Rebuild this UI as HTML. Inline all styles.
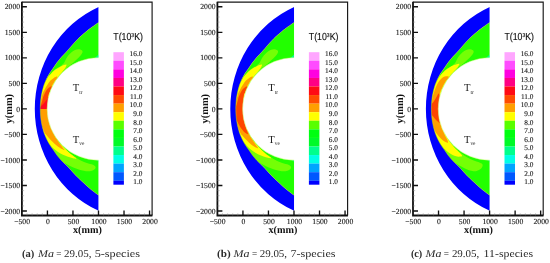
<!DOCTYPE html>
<html lang="en"><head><meta charset="utf-8"><title>Temperature contours</title>
<style>html,body{margin:0;padding:0;background:#fff}svg{display:block}text{text-rendering:geometricPrecision}</style></head><body>
<svg width="550" height="263" viewBox="0 0 550 263">
<rect width="550" height="263" fill="#fff"/>
<defs><clipPath id="cu"><rect x="0" y="0" width="160" height="108.9"/></clipPath><clipPath id="cl"><rect x="0" y="108.9" width="160" height="160"/></clipPath></defs>
<g transform="translate(0 0)">
<path d="M98.65 22.4C97.54 23.18 94.16 25.48 92 27.1C89.84 28.72 88.03 30.13 85.7 32.1C83.37 34.07 80.28 36.68 78 38.9C75.72 41.12 73.95 43.22 72 45.4C70.05 47.58 68.08 50.02 66.3 52C64.52 53.98 62.85 55.53 61.3 57.3C59.75 59.07 58.33 60.82 57 62.6C55.67 64.38 54.53 66.22 53.3 68C52.07 69.78 50.73 71.47 49.6 73.3C48.47 75.13 47.43 77.05 46.5 79C45.57 80.95 44.72 82.92 44 85C43.28 87.08 42.7 89.33 42.2 91.5C41.7 93.67 41.29 95.92 41 98C40.71 100.08 40.57 102.18 40.45 104C40.33 105.82 40.32 108.08 40.3 108.9C40.32 109.72 40.33 111.98 40.45 113.8C40.57 115.62 40.71 117.72 41 119.8C41.29 121.88 41.7 124.13 42.2 126.3C42.7 128.47 43.28 130.72 44 132.8C44.72 134.88 45.57 136.85 46.5 138.8C47.43 140.75 48.47 142.67 49.6 144.5C50.73 146.33 52.07 148.02 53.3 149.8C54.53 151.58 55.65 153.43 57 155.2C58.35 156.97 59.8 158.69 61.41 160.4C63.02 162.12 64.79 163.57 66.65 165.49C68.51 167.4 70.58 169.76 72.58 171.88C74.58 174 76.41 175.99 78.67 178.21C80.93 180.43 83.87 183.16 86.12 185.2C88.38 187.23 90.12 188.72 92.21 190.42C94.3 192.11 97.6 194.54 98.67 195.37Z" fill="#22ff00"/>
<g clip-path="url(#cu)">
<path d="M81.9 50.3C81.23 49.78 79.65 49.25 78.5 49.2C77.35 49.15 76.17 49.5 75 50C73.83 50.5 72.58 51.32 71.5 52.2C70.42 53.08 69.42 54.17 68.5 55.3C67.58 56.43 66.7 57.78 66 59C65.3 60.22 65.05 61.53 64.3 62.6C63.55 63.67 62.8 64.4 61.5 65.4C60.2 66.4 58.08 67.47 56.5 68.6C54.92 69.73 53.58 70.55 52 72.2C50.42 73.85 48.67 75.53 47 78.5C45.33 81.47 43.5 83.77 42 90C40.5 96.23 36.67 111.58 38 115.9C39.33 120.22 48 119.38 50 115.9C52 112.42 49.42 100.15 50 95C50.58 89.85 52.07 88 53.5 85C54.93 82 57.13 79.05 58.6 77C60.07 74.95 60.98 74.17 62.3 72.7C63.62 71.23 65.22 69.43 66.5 68.2C67.78 66.97 68.75 66.33 70 65.3C71.25 64.27 72.67 63.17 74 62C75.33 60.83 76.83 59.47 78 58.3C79.17 57.13 80.25 56 81 55C81.75 54 82.35 53.08 82.5 52.3C82.65 51.52 82.57 50.82 81.9 50.3Z" fill="#74ff06"/>
<path d="M66.3 64.6C65.65 64.3 63.02 65.42 61.3 66.2C59.58 66.98 57.6 68.17 56 69.3C54.4 70.43 53.2 71.43 51.7 73C50.2 74.57 48.62 75.87 47 78.7C45.38 81.53 43.5 83.8 42 90C40.5 96.2 36.75 111.58 38 115.9C39.25 120.22 47.58 119.38 49.5 115.9C51.42 112.42 48.92 100.15 49.5 95C50.08 89.85 51.57 88.05 53 85C54.43 81.95 56.68 78.75 58.1 76.7C59.52 74.65 60.32 74.15 61.5 72.7C62.68 71.25 64.4 69.35 65.2 68C66 66.65 66.95 64.9 66.3 64.6Z" fill="#ffff00"/>
<path d="M57.1 76.6C56.57 76.55 54.9 77.23 53.8 77.9C52.7 78.57 51.53 79.5 50.5 80.6C49.47 81.7 48.62 82.93 47.6 84.5C46.58 86.07 45.33 88.08 44.4 90C43.47 91.92 43.07 91.68 42 96C40.93 100.32 36.83 112.58 38 115.9C39.17 119.22 47.25 119.22 49 115.9C50.75 112.58 48.08 100.82 48.5 96C48.92 91.18 50.5 89.42 51.5 87C52.5 84.58 53.58 82.97 54.5 81.5C55.42 80.03 56.57 79.02 57 78.2C57.43 77.38 57.63 76.65 57.1 76.6Z" fill="#ff9f00"/>
<path d="M51.5 86.2C50.98 86.2 49.42 87.2 48.5 88C47.58 88.8 46.75 89.83 46 91C45.25 92.17 44.6 93.5 44 95C43.4 96.5 43.23 96.52 42.4 100C41.57 103.48 37.9 113.25 39 115.9C40.1 118.55 47.5 118.88 49 115.9C50.5 112.92 47.83 102.07 48 98C48.17 93.93 49.4 93.17 50 91.5C50.6 89.83 51.35 88.88 51.6 88C51.85 87.12 52.02 86.2 51.5 86.2Z" fill="#ff4600"/>
<path d="M39 108.2C39.22 106.7 39.47 107.73 40.3 106.9C41.13 106.07 42.78 104.55 44 103.2C45.22 101.85 46.6 99.83 47.6 98.8C48.6 97.77 49.27 94.15 50 97C50.73 99.85 53.83 112.75 52 115.9C50.17 119.05 41.17 117.18 39 115.9C36.83 114.62 38.78 109.7 39 108.2Z" fill="#ff0a20"/>
</g><g clip-path="url(#cl)">
<path d="M95.6 167.3C95.49 166.44 94.42 165.56 92.96 164.84C91.51 164.12 88.81 163.69 86.85 162.99C84.9 162.29 83.22 161.66 81.24 160.64C79.25 159.63 76.98 158.27 74.94 156.9C72.9 155.53 71.11 154.19 68.99 152.42C66.87 150.66 64.45 148.76 62.23 146.31C60 143.85 57.62 141.03 55.65 137.7C53.69 134.37 51.03 132.31 50.43 126.34C49.82 120.38 54.24 105.97 52 101.9C49.76 97.83 39 98.05 37 101.9C35 105.75 38.5 118.65 40 125C41.5 131.35 43.83 135.67 46 140C48.17 144.33 50.67 147.58 53 151C55.33 154.42 58 158.47 60 160.5C62 162.53 63.23 162.25 65 163.2C66.77 164.15 68.77 165.3 70.6 166.2C72.43 167.1 74.22 167.92 76 168.6C77.78 169.28 79.63 169.87 81.3 170.3C82.97 170.73 84.55 171.05 86 171.2C87.45 171.35 88.73 171.4 90 171.2C91.27 171 92.67 170.65 93.6 170C94.53 169.35 95.71 168.16 95.6 167.3Z" fill="#74ff06"/>
<path d="M76.5 158.5C76.62 158.16 74.76 156.98 73.74 156.18C72.72 155.37 71.61 154.71 70.37 153.68C69.13 152.64 67.8 151.44 66.27 149.96C64.75 148.47 62.96 146.82 61.23 144.74C59.5 142.67 57.63 140.63 55.9 137.53C54.18 134.44 51.55 132.11 50.9 126.17C50.24 120.23 54.32 105.95 52 101.9C49.68 97.85 39 98.55 37 101.9C35 105.25 38.67 116.15 40 122C41.33 127.85 43.5 133.43 45 137C46.5 140.57 47.67 141.57 49 143.4C50.33 145.23 51.5 146.57 53 148C54.5 149.43 56.33 150.87 58 152C59.67 153.13 61.33 154 63 154.8C64.67 155.6 66.33 156.23 68 156.8C69.67 157.37 71.58 157.92 73 158.2C74.42 158.48 76.38 158.84 76.5 158.5Z" fill="#ffff00"/>
<path d="M64.7 150.2C64.87 149.98 63.54 148.65 62.81 147.68C62.08 146.71 61.25 145.66 60.32 144.36C59.39 143.07 58.39 141.81 57.22 139.89C56.05 137.97 54.51 135.85 53.32 132.84C52.13 129.83 50.11 127 50.05 121.84C50 116.68 55.18 105.22 53 101.9C50.82 98.58 39.17 98.88 37 101.9C34.83 104.92 38.83 115.07 40 120C41.17 124.93 42.93 129 44 131.5C45.07 134 45.43 133.75 46.4 135C47.37 136.25 48.7 137.78 49.8 139C50.9 140.22 51.97 141.3 53 142.3C54.03 143.3 55 144.17 56 145C57 145.83 58.03 146.63 59 147.3C59.97 147.97 60.85 148.52 61.8 149C62.75 149.48 64.53 150.42 64.7 150.2Z" fill="#ff9f00"/>
</g>
<path d="M94.2 58.6L98.7 54.6V58.6Z" fill="#00ffb0" fill-opacity="0.8"/>
<path d="M95.6 159.4L98.7 162.4V159.4Z" fill="#00ff90" fill-opacity="0.5"/>
<path d="M98.65 6.95A105.3 110.9 0 0 0 98.65 210.85L98.67 195.37C97.6 194.54 94.3 192.11 92.21 190.42C90.12 188.72 88.38 187.23 86.12 185.2C83.87 183.16 80.93 180.43 78.67 178.21C76.41 175.99 74.58 174 72.58 171.88C70.58 169.76 68.51 167.4 66.65 165.49C64.79 163.57 63.02 162.12 61.41 160.4C59.8 158.69 58.35 156.97 57 155.2C55.65 153.43 54.53 151.58 53.3 149.8C52.07 148.02 50.73 146.33 49.6 144.5C48.47 142.67 47.43 140.75 46.5 138.8C45.57 136.85 44.72 134.88 44 132.8C43.28 130.72 42.7 128.47 42.2 126.3C41.7 124.13 41.29 121.88 41 119.8C40.71 117.72 40.57 115.62 40.45 113.8C40.33 111.98 40.32 109.72 40.3 108.9C40.32 108.08 40.33 105.82 40.45 104C40.57 102.18 40.71 100.08 41 98C41.29 95.92 41.7 93.67 42.2 91.5C42.7 89.33 43.28 87.08 44 85C44.72 82.92 45.57 80.95 46.5 79C47.43 77.05 48.47 75.13 49.6 73.3C50.73 71.47 52.07 69.78 53.3 68C54.53 66.22 55.67 64.38 57 62.6C58.33 60.82 59.75 59.07 61.3 57.3C62.85 55.53 64.52 53.98 66.3 52C68.08 50.02 70.05 47.58 72 45.4C73.95 43.22 75.72 41.12 78 38.9C80.28 36.68 83.37 34.07 85.7 32.1C88.03 30.13 89.84 28.72 92 27.1C94.16 25.48 97.54 23.18 98.65 22.4Z" fill="#0000ff"/>
<path d="M98.65 22.4C97.54 23.18 94.16 25.48 92 27.1C89.84 28.72 88.03 30.13 85.7 32.1C83.37 34.07 80.28 36.68 78 38.9C75.72 41.12 73.95 43.22 72 45.4C70.05 47.58 68.08 50.02 66.3 52C64.52 53.98 62.85 55.53 61.3 57.3C59.75 59.07 58.33 60.82 57 62.6C55.67 64.38 54.53 66.22 53.3 68C52.07 69.78 50.73 71.47 49.6 73.3C48.47 75.13 47.43 77.05 46.5 79C45.57 80.95 44.72 82.92 44 85C43.28 87.08 42.7 89.33 42.2 91.5C41.7 93.67 41.29 95.92 41 98C40.71 100.08 40.57 102.18 40.45 104C40.33 105.82 40.32 108.08 40.3 108.9C40.32 109.72 40.33 111.98 40.45 113.8C40.57 115.62 40.71 117.72 41 119.8C41.29 121.88 41.7 124.13 42.2 126.3C42.7 128.47 43.28 130.72 44 132.8C44.72 134.88 45.57 136.85 46.5 138.8C47.43 140.75 48.47 142.67 49.6 144.5C50.73 146.33 52.07 148.02 53.3 149.8C54.53 151.58 55.65 153.43 57 155.2C58.35 156.97 59.8 158.69 61.41 160.4C63.02 162.12 64.79 163.57 66.65 165.49C68.51 167.4 70.58 169.76 72.58 171.88C74.58 174 76.41 175.99 78.67 178.21C80.93 180.43 83.87 183.16 86.12 185.2C88.38 187.23 90.12 188.72 92.21 190.42C94.3 192.11 97.6 194.54 98.67 195.37" fill="none" stroke="#c8e600" stroke-opacity="0.6" stroke-width="0.8"/>
<circle cx="98.35" cy="108.9" r="51.25" fill="#fff" stroke="#c8ff70" stroke-opacity="0.55" stroke-width="0.9"/>
<rect x="98.65" y="3" width="53" height="212" fill="#fff"/>
<path d="M21.9 2.1H152.1V215.5" fill="none" stroke="#161616" stroke-width="1.15"/>
<path d="M21.9 1.8V215.5H152.4" fill="none" stroke="#111" stroke-width="1.8"/>
<path d="M21.9 211.02h5M21.9 185.49h5M21.9 159.96h5M21.9 134.43h5M21.9 108.9h5M21.9 83.37h5M21.9 57.84h5M21.9 32.31h5M21.9 6.78h5M47.43 215.5v-5M72.96 215.5v-5M98.49 215.5v-5M124.02 215.5v-5M149.55 215.5v-5" stroke="#111" stroke-width="1.35" fill="none"/>
<path d="M21.9 205.91h2.2M21.9 200.81h2.2M21.9 195.7h2.2M21.9 190.6h2.2M21.9 180.38h2.2M21.9 175.28h2.2M21.9 170.17h2.2M21.9 165.07h2.2M21.9 154.85h2.2M21.9 149.75h2.2M21.9 144.64h2.2M21.9 139.54h2.2M21.9 129.32h2.2M21.9 124.22h2.2M21.9 119.11h2.2M21.9 114.01h2.2M21.9 103.79h2.2M21.9 98.69h2.2M21.9 93.58h2.2M21.9 88.48h2.2M21.9 78.26h2.2M21.9 73.16h2.2M21.9 68.05h2.2M21.9 62.95h2.2M21.9 52.73h2.2M21.9 47.63h2.2M21.9 42.52h2.2M21.9 37.42h2.2M21.9 27.2h2.2M21.9 22.1h2.2M21.9 16.99h2.2M21.9 11.89h2.2M27.01 215.5v-2.2M32.11 215.5v-2.2M37.22 215.5v-2.2M42.32 215.5v-2.2M52.54 215.5v-2.2M57.64 215.5v-2.2M62.75 215.5v-2.2M67.85 215.5v-2.2M78.07 215.5v-2.2M83.17 215.5v-2.2M88.28 215.5v-2.2M93.38 215.5v-2.2M103.6 215.5v-2.2M108.7 215.5v-2.2M113.81 215.5v-2.2M118.91 215.5v-2.2M129.13 215.5v-2.2M134.23 215.5v-2.2M139.34 215.5v-2.2M144.44 215.5v-2.2" stroke="#8a8a8a" stroke-width="0.5" fill="none"/>
<g font-family="'Liberation Serif',serif" font-size="7.7" fill="#111" stroke="#111" stroke-width="0.1">
<text x="20.1" y="213.62" text-anchor="end">−2000</text>
<text x="20.1" y="188.09" text-anchor="end">−1500</text>
<text x="20.1" y="162.56" text-anchor="end">−1000</text>
<text x="20.1" y="137.03" text-anchor="end">−500</text>
<text x="20.1" y="111.5" text-anchor="end">0</text>
<text x="20.1" y="85.97" text-anchor="end">500</text>
<text x="20.1" y="60.44" text-anchor="end">1000</text>
<text x="20.1" y="34.91" text-anchor="end">1500</text>
<text x="20.1" y="9.38" text-anchor="end">2000</text>
<text x="22.1" y="224.3" text-anchor="middle">−500</text>
<text x="47.93" y="224.3" text-anchor="middle">0</text>
<text x="73.46" y="224.3" text-anchor="middle">500</text>
<text x="98.99" y="224.3" text-anchor="middle">1000</text>
<text x="124.52" y="224.3" text-anchor="middle">1500</text>
<text x="150.05" y="224.3" text-anchor="middle">2000</text>
</g>
<text x="87.4" y="232.9" text-anchor="middle" font-family="'Liberation Serif',serif" font-weight="bold" font-size="10.2" fill="#111">x(mm)</text>
<text transform="translate(12.1 108.7) rotate(-90)" text-anchor="middle" font-family="'Liberation Serif',serif" font-weight="bold" font-size="10.4" fill="#111">y(mm)</text>
<g font-family="'Liberation Serif',serif" fill="#222">
<text x="72.8" y="91.4" font-size="10.6">T<tspan font-size="5.4" dy="2.4">tr</tspan></text>
<text x="72.8" y="142.5" font-size="10.6">T<tspan font-size="5.4" dy="2.4">ve</tspan></text>
</g>
<text x="113.3" y="40.3" font-family="'Liberation Sans',sans-serif" font-size="10.2" fill="#111" stroke="#111" stroke-width="0.15" textLength="29.6" lengthAdjust="spacingAndGlyphs">T(10<tspan font-size="5.8" dy="-3.7">3</tspan><tspan dy="3.7">K)</tspan></text>
<rect x="113.4" y="52.2" width="10.5" height="8.62" fill="#ffa6ff"/>
<rect x="113.4" y="60.77" width="10.5" height="8.62" fill="#ff4cff"/>
<rect x="113.4" y="69.34" width="10.5" height="8.62" fill="#ff00e0"/>
<rect x="113.4" y="77.91" width="10.5" height="8.62" fill="#ff0084"/>
<rect x="113.4" y="86.48" width="10.5" height="8.62" fill="#ff0a14"/>
<rect x="113.4" y="95.05" width="10.5" height="8.62" fill="#ff4c00"/>
<rect x="113.4" y="103.62" width="10.5" height="8.62" fill="#ff9f00"/>
<rect x="113.4" y="112.19" width="10.5" height="8.62" fill="#ffff00"/>
<rect x="113.4" y="120.76" width="10.5" height="8.62" fill="#58ff00"/>
<rect x="113.4" y="129.33" width="10.5" height="8.62" fill="#00ff10"/>
<rect x="113.4" y="137.9" width="10.5" height="8.62" fill="#00fa28"/>
<rect x="113.4" y="146.47" width="10.5" height="8.62" fill="#00ff8c"/>
<rect x="113.4" y="155.04" width="10.5" height="8.62" fill="#00ffe6"/>
<rect x="113.4" y="163.61" width="10.5" height="8.62" fill="#00a4ff"/>
<rect x="113.4" y="172.18" width="10.5" height="8.62" fill="#0058ff"/>
<rect x="113.4" y="180.75" width="10.5" height="3.95" fill="#0000ff"/>
<g font-family="'Liberation Serif',serif" font-size="7.3" fill="#111" stroke="#111" stroke-width="0.1">
<text x="142.4" y="56.3" text-anchor="end">16.0</text>
<text x="142.4" y="64.83" text-anchor="end">15.0</text>
<text x="142.4" y="73.36" text-anchor="end">14.0</text>
<text x="142.4" y="81.89" text-anchor="end">13.0</text>
<text x="142.4" y="90.42" text-anchor="end">12.0</text>
<text x="142.4" y="98.95" text-anchor="end">11.0</text>
<text x="142.4" y="107.48" text-anchor="end">10.0</text>
<text x="142.4" y="116.01" text-anchor="end">9.0</text>
<text x="142.4" y="124.54" text-anchor="end">8.0</text>
<text x="142.4" y="133.07" text-anchor="end">7.0</text>
<text x="142.4" y="141.6" text-anchor="end">6.0</text>
<text x="142.4" y="150.13" text-anchor="end">5.0</text>
<text x="142.4" y="158.66" text-anchor="end">4.0</text>
<text x="142.4" y="167.19" text-anchor="end">3.0</text>
<text x="142.4" y="175.72" text-anchor="end">2.0</text>
<text x="142.4" y="184.25" text-anchor="end">1.0</text>
</g>
</g>
<g font-family="'Liberation Serif',serif" font-size="10.5" fill="#2a2a2a">
<text x="22" y="257.4" textLength="12.3" lengthAdjust="spacingAndGlyphs" font-weight="bold">(a)</text>
<text x="38" y="257.4" textLength="16" lengthAdjust="spacingAndGlyphs" font-style="italic">Ma</text>
<text x="56.3" y="257.4" textLength="5.2" lengthAdjust="spacingAndGlyphs">=</text>
<text x="64" y="257.4" textLength="27.4" lengthAdjust="spacingAndGlyphs">29.05,</text>
<text x="94.7" y="257.4" textLength="45.3" lengthAdjust="spacingAndGlyphs">5-species</text>
</g>
<g transform="translate(195.5 0)">
<path d="M98.65 22.4C97.54 23.18 94.16 25.48 92 27.1C89.84 28.72 88.03 30.13 85.7 32.1C83.37 34.07 80.28 36.68 78 38.9C75.72 41.12 73.95 43.22 72 45.4C70.05 47.58 68.08 50.02 66.3 52C64.52 53.98 62.85 55.53 61.3 57.3C59.75 59.07 58.33 60.82 57 62.6C55.67 64.38 54.53 66.22 53.3 68C52.07 69.78 50.73 71.47 49.6 73.3C48.47 75.13 47.43 77.05 46.5 79C45.57 80.95 44.72 82.92 44 85C43.28 87.08 42.7 89.33 42.2 91.5C41.7 93.67 41.29 95.92 41 98C40.71 100.08 40.57 102.18 40.45 104C40.33 105.82 40.32 108.08 40.3 108.9C40.32 109.72 40.33 111.98 40.45 113.8C40.57 115.62 40.71 117.72 41 119.8C41.29 121.88 41.7 124.13 42.2 126.3C42.7 128.47 43.28 130.72 44 132.8C44.72 134.88 45.57 136.85 46.5 138.8C47.43 140.75 48.47 142.67 49.6 144.5C50.73 146.33 52.07 148.02 53.3 149.8C54.53 151.58 55.65 153.43 57 155.2C58.35 156.97 59.8 158.69 61.41 160.4C63.02 162.12 64.79 163.57 66.65 165.49C68.51 167.4 70.58 169.76 72.58 171.88C74.58 174 76.41 175.99 78.67 178.21C80.93 180.43 83.87 183.16 86.12 185.2C88.38 187.23 90.12 188.72 92.21 190.42C94.3 192.11 97.6 194.54 98.67 195.37Z" fill="#22ff00"/>
<g clip-path="url(#cu)">
<path d="M81.9 50.3C81.23 49.78 79.65 49.25 78.5 49.2C77.35 49.15 76.17 49.5 75 50C73.83 50.5 72.58 51.32 71.5 52.2C70.42 53.08 69.42 54.17 68.5 55.3C67.58 56.43 66.7 57.78 66 59C65.3 60.22 65.05 61.53 64.3 62.6C63.55 63.67 62.8 64.4 61.5 65.4C60.2 66.4 58.08 67.47 56.5 68.6C54.92 69.73 53.58 70.55 52 72.2C50.42 73.85 48.67 75.53 47 78.5C45.33 81.47 43.5 83.77 42 90C40.5 96.23 36.67 111.58 38 115.9C39.33 120.22 48 119.38 50 115.9C52 112.42 49.42 100.15 50 95C50.58 89.85 52.07 88 53.5 85C54.93 82 57.13 79.05 58.6 77C60.07 74.95 60.98 74.17 62.3 72.7C63.62 71.23 65.22 69.43 66.5 68.2C67.78 66.97 68.75 66.33 70 65.3C71.25 64.27 72.67 63.17 74 62C75.33 60.83 76.83 59.47 78 58.3C79.17 57.13 80.25 56 81 55C81.75 54 82.35 53.08 82.5 52.3C82.65 51.52 82.57 50.82 81.9 50.3Z" fill="#74ff06"/>
<path d="M66.3 64.6C65.65 64.3 63.02 65.42 61.3 66.2C59.58 66.98 57.6 68.17 56 69.3C54.4 70.43 53.2 71.43 51.7 73C50.2 74.57 48.62 75.87 47 78.7C45.38 81.53 43.5 83.8 42 90C40.5 96.2 36.75 111.58 38 115.9C39.25 120.22 47.58 119.38 49.5 115.9C51.42 112.42 48.92 100.15 49.5 95C50.08 89.85 51.57 88.05 53 85C54.43 81.95 56.68 78.75 58.1 76.7C59.52 74.65 60.32 74.15 61.5 72.7C62.68 71.25 64.4 69.35 65.2 68C66 66.65 66.95 64.9 66.3 64.6Z" fill="#ffff00"/>
<path d="M57.1 76.6C56.57 76.55 54.9 77.23 53.8 77.9C52.7 78.57 51.53 79.5 50.5 80.6C49.47 81.7 48.62 82.93 47.6 84.5C46.58 86.07 45.33 88.08 44.4 90C43.47 91.92 43.07 91.68 42 96C40.93 100.32 36.83 112.58 38 115.9C39.17 119.22 47.25 119.22 49 115.9C50.75 112.58 48.08 100.82 48.5 96C48.92 91.18 50.5 89.42 51.5 87C52.5 84.58 53.58 82.97 54.5 81.5C55.42 80.03 56.57 79.02 57 78.2C57.43 77.38 57.63 76.65 57.1 76.6Z" fill="#ff9f00"/>
<path d="M51.5 86.2C50.98 86.2 49.42 87.2 48.5 88C47.58 88.8 46.75 89.83 46 91C45.25 92.17 44.6 93.5 44 95C43.4 96.5 43.23 96.52 42.4 100C41.57 103.48 37.9 113.25 39 115.9C40.1 118.55 47.5 118.88 49 115.9C50.5 112.92 47.83 102.07 48 98C48.17 93.93 49.4 93.17 50 91.5C50.6 89.83 51.35 88.88 51.6 88C51.85 87.12 52.02 86.2 51.5 86.2Z" fill="#ff4600"/>
</g><g clip-path="url(#cl)">
<path d="M95.6 167.3C95.49 166.44 94.42 165.56 92.96 164.84C91.51 164.12 88.81 163.69 86.85 162.99C84.9 162.29 83.22 161.66 81.24 160.64C79.25 159.63 76.98 158.27 74.94 156.9C72.9 155.53 71.11 154.19 68.99 152.42C66.87 150.66 64.45 148.76 62.23 146.31C60 143.85 57.62 141.03 55.65 137.7C53.69 134.37 51.03 132.31 50.43 126.34C49.82 120.38 54.24 105.97 52 101.9C49.76 97.83 39 98.05 37 101.9C35 105.75 38.5 118.65 40 125C41.5 131.35 43.83 135.67 46 140C48.17 144.33 50.67 147.58 53 151C55.33 154.42 58 158.47 60 160.5C62 162.53 63.23 162.25 65 163.2C66.77 164.15 68.77 165.3 70.6 166.2C72.43 167.1 74.22 167.92 76 168.6C77.78 169.28 79.63 169.87 81.3 170.3C82.97 170.73 84.55 171.05 86 171.2C87.45 171.35 88.73 171.4 90 171.2C91.27 171 92.67 170.65 93.6 170C94.53 169.35 95.71 168.16 95.6 167.3Z" fill="#74ff06"/>
<path d="M75.7 158C75.77 157.67 73.94 156.54 72.92 155.74C71.9 154.94 70.82 154.24 69.59 153.18C68.37 152.12 66.96 150.8 65.56 149.39C64.17 147.98 62.84 146.72 61.23 144.74C59.62 142.77 57.63 140.63 55.9 137.53C54.18 134.44 51.55 132.11 50.9 126.17C50.24 120.23 54.32 105.95 52 101.9C49.68 97.85 39 98.55 37 101.9C35 105.25 38.58 116.15 40 122C41.42 127.85 43.95 133.45 45.5 137C47.05 140.55 48 141.5 49.3 143.3C50.6 145.1 51.85 146.42 53.3 147.8C54.75 149.18 56.38 150.5 58 151.6C59.62 152.7 61.33 153.6 63 154.4C64.67 155.2 66.42 155.85 68 156.4C69.58 156.95 71.22 157.43 72.5 157.7C73.78 157.97 75.63 158.33 75.7 158Z" fill="#ffff00"/>
<path d="M62.6 148.2C62.89 148.07 61.74 146.96 61.16 146.09C60.57 145.23 59.94 144.29 59.11 143.02C58.27 141.74 57.26 140.4 56.16 138.44C55.06 136.48 53.53 134.02 52.51 131.26C51.49 128.49 49.97 126.73 50.05 121.84C50.14 116.95 55.18 105.22 53 101.9C50.82 98.58 39.17 98.88 37 101.9C34.83 104.92 38.73 114.9 40 120C41.27 125.1 43.4 129.83 44.6 132.5C45.8 135.17 46.23 134.82 47.2 136C48.17 137.18 49.37 138.5 50.4 139.6C51.43 140.7 52.43 141.7 53.4 142.6C54.37 143.5 55.2 144.28 56.2 145C57.2 145.72 58.33 146.37 59.4 146.9C60.47 147.43 62.31 148.33 62.6 148.2Z" fill="#ff9f00"/>
<path d="M52.5 134.2C52.88 134.08 52.2 133.07 51.9 132.06C51.6 131.05 51.12 129.98 50.69 128.15C50.27 126.33 49.13 125.49 49.35 121.12C49.57 116.74 54.06 105.1 52 101.9C49.94 98.7 39.08 99.55 37 101.9C34.92 104.25 38.62 112.55 39.5 116C40.38 119.45 41.48 120.87 42.3 122.6C43.12 124.33 43.65 125.2 44.4 126.4C45.15 127.6 45.93 128.73 46.8 129.8C47.67 130.87 48.65 132.07 49.6 132.8C50.55 133.53 52.12 134.32 52.5 134.2Z" fill="#ff4600"/>
</g>
<path d="M94.2 58.6L98.7 54.6V58.6Z" fill="#00ffb0" fill-opacity="0.8"/>
<path d="M95.6 159.4L98.7 162.4V159.4Z" fill="#00ff90" fill-opacity="0.5"/>
<path d="M98.65 6.95A105.3 110.9 0 0 0 98.65 210.85L98.67 195.37C97.6 194.54 94.3 192.11 92.21 190.42C90.12 188.72 88.38 187.23 86.12 185.2C83.87 183.16 80.93 180.43 78.67 178.21C76.41 175.99 74.58 174 72.58 171.88C70.58 169.76 68.51 167.4 66.65 165.49C64.79 163.57 63.02 162.12 61.41 160.4C59.8 158.69 58.35 156.97 57 155.2C55.65 153.43 54.53 151.58 53.3 149.8C52.07 148.02 50.73 146.33 49.6 144.5C48.47 142.67 47.43 140.75 46.5 138.8C45.57 136.85 44.72 134.88 44 132.8C43.28 130.72 42.7 128.47 42.2 126.3C41.7 124.13 41.29 121.88 41 119.8C40.71 117.72 40.57 115.62 40.45 113.8C40.33 111.98 40.32 109.72 40.3 108.9C40.32 108.08 40.33 105.82 40.45 104C40.57 102.18 40.71 100.08 41 98C41.29 95.92 41.7 93.67 42.2 91.5C42.7 89.33 43.28 87.08 44 85C44.72 82.92 45.57 80.95 46.5 79C47.43 77.05 48.47 75.13 49.6 73.3C50.73 71.47 52.07 69.78 53.3 68C54.53 66.22 55.67 64.38 57 62.6C58.33 60.82 59.75 59.07 61.3 57.3C62.85 55.53 64.52 53.98 66.3 52C68.08 50.02 70.05 47.58 72 45.4C73.95 43.22 75.72 41.12 78 38.9C80.28 36.68 83.37 34.07 85.7 32.1C88.03 30.13 89.84 28.72 92 27.1C94.16 25.48 97.54 23.18 98.65 22.4Z" fill="#0000ff"/>
<path d="M98.65 22.4C97.54 23.18 94.16 25.48 92 27.1C89.84 28.72 88.03 30.13 85.7 32.1C83.37 34.07 80.28 36.68 78 38.9C75.72 41.12 73.95 43.22 72 45.4C70.05 47.58 68.08 50.02 66.3 52C64.52 53.98 62.85 55.53 61.3 57.3C59.75 59.07 58.33 60.82 57 62.6C55.67 64.38 54.53 66.22 53.3 68C52.07 69.78 50.73 71.47 49.6 73.3C48.47 75.13 47.43 77.05 46.5 79C45.57 80.95 44.72 82.92 44 85C43.28 87.08 42.7 89.33 42.2 91.5C41.7 93.67 41.29 95.92 41 98C40.71 100.08 40.57 102.18 40.45 104C40.33 105.82 40.32 108.08 40.3 108.9C40.32 109.72 40.33 111.98 40.45 113.8C40.57 115.62 40.71 117.72 41 119.8C41.29 121.88 41.7 124.13 42.2 126.3C42.7 128.47 43.28 130.72 44 132.8C44.72 134.88 45.57 136.85 46.5 138.8C47.43 140.75 48.47 142.67 49.6 144.5C50.73 146.33 52.07 148.02 53.3 149.8C54.53 151.58 55.65 153.43 57 155.2C58.35 156.97 59.8 158.69 61.41 160.4C63.02 162.12 64.79 163.57 66.65 165.49C68.51 167.4 70.58 169.76 72.58 171.88C74.58 174 76.41 175.99 78.67 178.21C80.93 180.43 83.87 183.16 86.12 185.2C88.38 187.23 90.12 188.72 92.21 190.42C94.3 192.11 97.6 194.54 98.67 195.37" fill="none" stroke="#c8e600" stroke-opacity="0.6" stroke-width="0.8"/>
<circle cx="98.35" cy="108.9" r="51.25" fill="#fff" stroke="#c8ff70" stroke-opacity="0.55" stroke-width="0.9"/>
<rect x="98.65" y="3" width="53" height="212" fill="#fff"/>
<path d="M21.9 2.1H152.1V215.5" fill="none" stroke="#161616" stroke-width="1.15"/>
<path d="M21.9 1.8V215.5H152.4" fill="none" stroke="#111" stroke-width="1.8"/>
<path d="M21.9 211.02h5M21.9 185.49h5M21.9 159.96h5M21.9 134.43h5M21.9 108.9h5M21.9 83.37h5M21.9 57.84h5M21.9 32.31h5M21.9 6.78h5M47.43 215.5v-5M72.96 215.5v-5M98.49 215.5v-5M124.02 215.5v-5M149.55 215.5v-5" stroke="#111" stroke-width="1.35" fill="none"/>
<path d="M21.9 205.91h2.2M21.9 200.81h2.2M21.9 195.7h2.2M21.9 190.6h2.2M21.9 180.38h2.2M21.9 175.28h2.2M21.9 170.17h2.2M21.9 165.07h2.2M21.9 154.85h2.2M21.9 149.75h2.2M21.9 144.64h2.2M21.9 139.54h2.2M21.9 129.32h2.2M21.9 124.22h2.2M21.9 119.11h2.2M21.9 114.01h2.2M21.9 103.79h2.2M21.9 98.69h2.2M21.9 93.58h2.2M21.9 88.48h2.2M21.9 78.26h2.2M21.9 73.16h2.2M21.9 68.05h2.2M21.9 62.95h2.2M21.9 52.73h2.2M21.9 47.63h2.2M21.9 42.52h2.2M21.9 37.42h2.2M21.9 27.2h2.2M21.9 22.1h2.2M21.9 16.99h2.2M21.9 11.89h2.2M27.01 215.5v-2.2M32.11 215.5v-2.2M37.22 215.5v-2.2M42.32 215.5v-2.2M52.54 215.5v-2.2M57.64 215.5v-2.2M62.75 215.5v-2.2M67.85 215.5v-2.2M78.07 215.5v-2.2M83.17 215.5v-2.2M88.28 215.5v-2.2M93.38 215.5v-2.2M103.6 215.5v-2.2M108.7 215.5v-2.2M113.81 215.5v-2.2M118.91 215.5v-2.2M129.13 215.5v-2.2M134.23 215.5v-2.2M139.34 215.5v-2.2M144.44 215.5v-2.2" stroke="#8a8a8a" stroke-width="0.5" fill="none"/>
<g font-family="'Liberation Serif',serif" font-size="7.7" fill="#111" stroke="#111" stroke-width="0.1">
<text x="20.1" y="213.62" text-anchor="end">−2000</text>
<text x="20.1" y="188.09" text-anchor="end">−1500</text>
<text x="20.1" y="162.56" text-anchor="end">−1000</text>
<text x="20.1" y="137.03" text-anchor="end">−500</text>
<text x="20.1" y="111.5" text-anchor="end">0</text>
<text x="20.1" y="85.97" text-anchor="end">500</text>
<text x="20.1" y="60.44" text-anchor="end">1000</text>
<text x="20.1" y="34.91" text-anchor="end">1500</text>
<text x="20.1" y="9.38" text-anchor="end">2000</text>
<text x="22.1" y="224.3" text-anchor="middle">−500</text>
<text x="47.93" y="224.3" text-anchor="middle">0</text>
<text x="73.46" y="224.3" text-anchor="middle">500</text>
<text x="98.99" y="224.3" text-anchor="middle">1000</text>
<text x="124.52" y="224.3" text-anchor="middle">1500</text>
<text x="150.05" y="224.3" text-anchor="middle">2000</text>
</g>
<text x="87.4" y="232.9" text-anchor="middle" font-family="'Liberation Serif',serif" font-weight="bold" font-size="10.2" fill="#111">x(mm)</text>
<text transform="translate(12.1 108.7) rotate(-90)" text-anchor="middle" font-family="'Liberation Serif',serif" font-weight="bold" font-size="10.4" fill="#111">y(mm)</text>
<g font-family="'Liberation Serif',serif" fill="#222">
<text x="72.8" y="91.4" font-size="10.6">T<tspan font-size="5.4" dy="2.4">tr</tspan></text>
<text x="72.8" y="142.5" font-size="10.6">T<tspan font-size="5.4" dy="2.4">ve</tspan></text>
</g>
<text x="113.3" y="40.3" font-family="'Liberation Sans',sans-serif" font-size="10.2" fill="#111" stroke="#111" stroke-width="0.15" textLength="29.6" lengthAdjust="spacingAndGlyphs">T(10<tspan font-size="5.8" dy="-3.7">3</tspan><tspan dy="3.7">K)</tspan></text>
<rect x="113.4" y="52.2" width="10.5" height="8.62" fill="#ffa6ff"/>
<rect x="113.4" y="60.77" width="10.5" height="8.62" fill="#ff4cff"/>
<rect x="113.4" y="69.34" width="10.5" height="8.62" fill="#ff00e0"/>
<rect x="113.4" y="77.91" width="10.5" height="8.62" fill="#ff0084"/>
<rect x="113.4" y="86.48" width="10.5" height="8.62" fill="#ff0a14"/>
<rect x="113.4" y="95.05" width="10.5" height="8.62" fill="#ff4c00"/>
<rect x="113.4" y="103.62" width="10.5" height="8.62" fill="#ff9f00"/>
<rect x="113.4" y="112.19" width="10.5" height="8.62" fill="#ffff00"/>
<rect x="113.4" y="120.76" width="10.5" height="8.62" fill="#58ff00"/>
<rect x="113.4" y="129.33" width="10.5" height="8.62" fill="#00ff10"/>
<rect x="113.4" y="137.9" width="10.5" height="8.62" fill="#00fa28"/>
<rect x="113.4" y="146.47" width="10.5" height="8.62" fill="#00ff8c"/>
<rect x="113.4" y="155.04" width="10.5" height="8.62" fill="#00ffe6"/>
<rect x="113.4" y="163.61" width="10.5" height="8.62" fill="#00a4ff"/>
<rect x="113.4" y="172.18" width="10.5" height="8.62" fill="#0058ff"/>
<rect x="113.4" y="180.75" width="10.5" height="3.95" fill="#0000ff"/>
<g font-family="'Liberation Serif',serif" font-size="7.3" fill="#111" stroke="#111" stroke-width="0.1">
<text x="142.4" y="56.3" text-anchor="end">16.0</text>
<text x="142.4" y="64.83" text-anchor="end">15.0</text>
<text x="142.4" y="73.36" text-anchor="end">14.0</text>
<text x="142.4" y="81.89" text-anchor="end">13.0</text>
<text x="142.4" y="90.42" text-anchor="end">12.0</text>
<text x="142.4" y="98.95" text-anchor="end">11.0</text>
<text x="142.4" y="107.48" text-anchor="end">10.0</text>
<text x="142.4" y="116.01" text-anchor="end">9.0</text>
<text x="142.4" y="124.54" text-anchor="end">8.0</text>
<text x="142.4" y="133.07" text-anchor="end">7.0</text>
<text x="142.4" y="141.6" text-anchor="end">6.0</text>
<text x="142.4" y="150.13" text-anchor="end">5.0</text>
<text x="142.4" y="158.66" text-anchor="end">4.0</text>
<text x="142.4" y="167.19" text-anchor="end">3.0</text>
<text x="142.4" y="175.72" text-anchor="end">2.0</text>
<text x="142.4" y="184.25" text-anchor="end">1.0</text>
</g>
</g>
<g font-family="'Liberation Serif',serif" font-size="10.5" fill="#2a2a2a">
<text x="217" y="257.4" textLength="13.6" lengthAdjust="spacingAndGlyphs" font-weight="bold">(b)</text>
<text x="233.6" y="257.4" textLength="16" lengthAdjust="spacingAndGlyphs" font-style="italic">Ma</text>
<text x="251.9" y="257.4" textLength="5.2" lengthAdjust="spacingAndGlyphs">=</text>
<text x="259.7" y="257.4" textLength="27.4" lengthAdjust="spacingAndGlyphs">29.05,</text>
<text x="290.4" y="257.4" textLength="45.1" lengthAdjust="spacingAndGlyphs">7-species</text>
</g>
<g transform="translate(391.1 0)">
<path d="M98.65 22.4C97.54 23.18 94.16 25.48 92 27.1C89.84 28.72 88.03 30.13 85.7 32.1C83.37 34.07 80.28 36.68 78 38.9C75.72 41.12 73.95 43.22 72 45.4C70.05 47.58 68.08 50.02 66.3 52C64.52 53.98 62.85 55.53 61.3 57.3C59.75 59.07 58.33 60.82 57 62.6C55.67 64.38 54.53 66.22 53.3 68C52.07 69.78 50.73 71.47 49.6 73.3C48.47 75.13 47.43 77.05 46.5 79C45.57 80.95 44.72 82.92 44 85C43.28 87.08 42.7 89.33 42.2 91.5C41.7 93.67 41.29 95.92 41 98C40.71 100.08 40.57 102.18 40.45 104C40.33 105.82 40.32 108.08 40.3 108.9C40.32 109.72 40.33 111.98 40.45 113.8C40.57 115.62 40.71 117.72 41 119.8C41.29 121.88 41.7 124.13 42.2 126.3C42.7 128.47 43.28 130.72 44 132.8C44.72 134.88 45.57 136.85 46.5 138.8C47.43 140.75 48.47 142.67 49.6 144.5C50.73 146.33 52.07 148.02 53.3 149.8C54.53 151.58 55.65 153.43 57 155.2C58.35 156.97 59.8 158.69 61.41 160.4C63.02 162.12 64.79 163.57 66.65 165.49C68.51 167.4 70.58 169.76 72.58 171.88C74.58 174 76.41 175.99 78.67 178.21C80.93 180.43 83.87 183.16 86.12 185.2C88.38 187.23 90.12 188.72 92.21 190.42C94.3 192.11 97.6 194.54 98.67 195.37Z" fill="#22ff00"/>
<g clip-path="url(#cu)">
<path d="M81.9 50.3C81.23 49.78 79.65 49.25 78.5 49.2C77.35 49.15 76.17 49.5 75 50C73.83 50.5 72.58 51.32 71.5 52.2C70.42 53.08 69.42 54.17 68.5 55.3C67.58 56.43 66.7 57.78 66 59C65.3 60.22 65.05 61.53 64.3 62.6C63.55 63.67 62.8 64.4 61.5 65.4C60.2 66.4 58.08 67.47 56.5 68.6C54.92 69.73 53.58 70.55 52 72.2C50.42 73.85 48.67 75.53 47 78.5C45.33 81.47 43.5 83.77 42 90C40.5 96.23 36.67 111.58 38 115.9C39.33 120.22 48 119.38 50 115.9C52 112.42 49.42 100.15 50 95C50.58 89.85 52.07 88 53.5 85C54.93 82 57.13 79.05 58.6 77C60.07 74.95 60.98 74.17 62.3 72.7C63.62 71.23 65.22 69.43 66.5 68.2C67.78 66.97 68.75 66.33 70 65.3C71.25 64.27 72.67 63.17 74 62C75.33 60.83 76.83 59.47 78 58.3C79.17 57.13 80.25 56 81 55C81.75 54 82.35 53.08 82.5 52.3C82.65 51.52 82.57 50.82 81.9 50.3Z" fill="#74ff06"/>
<path d="M68.1 63.7C67.47 63.37 64.77 64.28 63 65C61.23 65.72 59.25 66.83 57.5 68C55.75 69.17 54.25 70.22 52.5 72C50.75 73.78 48.75 75.7 47 78.7C45.25 81.7 43.5 83.8 42 90C40.5 96.2 36.75 111.58 38 115.9C39.25 120.22 47.58 119.38 49.5 115.9C51.42 112.42 48.92 100.15 49.5 95C50.08 89.85 51.57 88.05 53 85C54.43 81.95 56.52 78.92 58.1 76.7C59.68 74.48 61.05 73.32 62.5 71.7C63.95 70.08 65.87 68.33 66.8 67C67.73 65.67 68.73 64.03 68.1 63.7Z" fill="#ffff00"/>
<path d="M57.3 76.3C56.73 76.03 54.75 76.25 53.6 76.6C52.45 76.95 51.4 77.53 50.4 78.4C49.4 79.27 48.5 80.43 47.6 81.8C46.7 83.17 45.77 84.9 45 86.6C44.23 88.3 43.62 90.1 43 92C42.38 93.9 42.13 94.02 41.3 98C40.47 101.98 36.72 112.92 38 115.9C39.28 118.88 47.25 119.22 49 115.9C50.75 112.58 48.08 100.82 48.5 96C48.92 91.18 50.5 89.42 51.5 87C52.5 84.58 53.58 82.97 54.5 81.5C55.42 80.03 56.53 79.07 57 78.2C57.47 77.33 57.87 76.57 57.3 76.3Z" fill="#ff9f00"/>
<path d="M47.5 93.4C47.03 93.43 46.42 95.15 45.8 96.2C45.18 97.25 44.52 98.58 43.8 99.7C43.08 100.82 42.25 102.07 41.5 102.9C40.75 103.73 40.05 102.53 39.3 104.7C38.55 106.87 34.88 114.03 37 115.9C39.12 117.77 49.83 118.38 52 115.9C54.17 113.42 50.57 104.32 50 101C49.43 97.68 49.02 97.27 48.6 96C48.18 94.73 47.97 93.37 47.5 93.4Z" fill="#ff4600"/>
</g><g clip-path="url(#cl)">
<path d="M91.4 164.4C91.04 163.65 90.53 163.39 88.87 162.67C87.21 161.95 83.73 161.07 81.43 160.07C79.12 159.08 77.1 157.99 75.03 156.72C72.96 155.44 71.13 154.16 68.99 152.42C66.86 150.69 64.45 148.76 62.23 146.31C60 143.85 57.62 141.03 55.65 137.7C53.69 134.37 51.03 132.31 50.43 126.34C49.82 120.38 54.24 105.97 52 101.9C49.76 97.83 39 98.05 37 101.9C35 105.75 38.5 118.65 40 125C41.5 131.35 43.83 135.67 46 140C48.17 144.33 50.67 147.58 53 151C55.33 154.42 58 158.4 60 160.5C62 162.6 63.23 162.55 65 163.6C66.77 164.65 68.77 165.83 70.6 166.8C72.43 167.77 74.22 168.7 76 169.4C77.78 170.1 79.72 170.73 81.3 171C82.88 171.27 84.25 171.23 85.5 171C86.75 170.77 87.88 170.23 88.8 169.6C89.72 168.97 90.57 168.07 91 167.2C91.43 166.33 91.76 165.15 91.4 164.4Z" fill="#74ff06"/>
<path d="M71 155.9C71.05 155.4 70.16 154.53 69.32 153.6C68.48 152.68 67.15 151.57 65.97 150.35C64.78 149.13 63.59 147.93 62.23 146.31C60.86 144.68 59.25 142.85 57.77 140.61C56.28 138.36 54.61 135.97 53.32 132.84C52.03 129.72 50.27 127 50.05 121.84C49.83 116.68 54.18 105.22 52 101.9C49.82 98.58 39 98.55 37 101.9C35 105.25 38.73 116.48 40 122C41.27 127.52 43.13 131.5 44.6 135C46.07 138.5 47.4 140.73 48.8 143C50.2 145.27 51.55 147 53 148.6C54.45 150.2 56 151.5 57.5 152.6C59 153.7 60.58 154.57 62 155.2C63.42 155.83 64.83 156.17 66 156.4C67.17 156.63 68.17 156.68 69 156.6C69.83 156.52 70.95 156.4 71 155.9Z" fill="#ffff00"/>
<path d="M56.8 142.6C57.15 142.36 56.83 141.34 56.5 140.44C56.17 139.53 55.48 138.53 54.82 137.17C54.16 135.8 53.3 134.35 52.55 132.24C51.8 130.12 50.41 129.56 50.32 124.51C50.23 119.45 54.22 105.67 52 101.9C49.78 98.13 39 98.88 37 101.9C35 104.92 38.9 115.23 40 120C41.1 124.77 42.6 128.13 43.6 130.5C44.6 132.87 45.13 133.02 46 134.2C46.87 135.38 47.87 136.6 48.8 137.6C49.73 138.6 50.67 139.48 51.6 140.2C52.53 140.92 53.53 141.5 54.4 141.9C55.27 142.3 56.45 142.84 56.8 142.6Z" fill="#ff9f00"/>
<path d="M48.6 123C48.9 122.94 48.22 121.98 48.08 120.97C47.94 119.95 47.72 118.48 47.78 116.91C47.84 115.33 47.72 114.02 48.42 111.52C49.12 109.02 53.9 103.5 52 101.9C50.1 100.3 39.17 99.97 37 101.9C34.83 103.83 38.33 111.22 39 113.5C39.67 115.78 40.23 114.78 41 115.6C41.77 116.42 42.72 117.45 43.6 118.4C44.48 119.35 45.47 120.53 46.3 121.3C47.13 122.07 48.3 123.06 48.6 123Z" fill="#ff4600"/>
</g>
<path d="M94.2 58.6L98.7 54.6V58.6Z" fill="#00ffb0" fill-opacity="0.8"/>
<path d="M95.6 159.4L98.7 162.4V159.4Z" fill="#00ff90" fill-opacity="0.5"/>
<path d="M98.65 6.95A105.3 110.9 0 0 0 98.65 210.85L98.67 195.37C97.6 194.54 94.3 192.11 92.21 190.42C90.12 188.72 88.38 187.23 86.12 185.2C83.87 183.16 80.93 180.43 78.67 178.21C76.41 175.99 74.58 174 72.58 171.88C70.58 169.76 68.51 167.4 66.65 165.49C64.79 163.57 63.02 162.12 61.41 160.4C59.8 158.69 58.35 156.97 57 155.2C55.65 153.43 54.53 151.58 53.3 149.8C52.07 148.02 50.73 146.33 49.6 144.5C48.47 142.67 47.43 140.75 46.5 138.8C45.57 136.85 44.72 134.88 44 132.8C43.28 130.72 42.7 128.47 42.2 126.3C41.7 124.13 41.29 121.88 41 119.8C40.71 117.72 40.57 115.62 40.45 113.8C40.33 111.98 40.32 109.72 40.3 108.9C40.32 108.08 40.33 105.82 40.45 104C40.57 102.18 40.71 100.08 41 98C41.29 95.92 41.7 93.67 42.2 91.5C42.7 89.33 43.28 87.08 44 85C44.72 82.92 45.57 80.95 46.5 79C47.43 77.05 48.47 75.13 49.6 73.3C50.73 71.47 52.07 69.78 53.3 68C54.53 66.22 55.67 64.38 57 62.6C58.33 60.82 59.75 59.07 61.3 57.3C62.85 55.53 64.52 53.98 66.3 52C68.08 50.02 70.05 47.58 72 45.4C73.95 43.22 75.72 41.12 78 38.9C80.28 36.68 83.37 34.07 85.7 32.1C88.03 30.13 89.84 28.72 92 27.1C94.16 25.48 97.54 23.18 98.65 22.4Z" fill="#0000ff"/>
<path d="M98.65 22.4C97.54 23.18 94.16 25.48 92 27.1C89.84 28.72 88.03 30.13 85.7 32.1C83.37 34.07 80.28 36.68 78 38.9C75.72 41.12 73.95 43.22 72 45.4C70.05 47.58 68.08 50.02 66.3 52C64.52 53.98 62.85 55.53 61.3 57.3C59.75 59.07 58.33 60.82 57 62.6C55.67 64.38 54.53 66.22 53.3 68C52.07 69.78 50.73 71.47 49.6 73.3C48.47 75.13 47.43 77.05 46.5 79C45.57 80.95 44.72 82.92 44 85C43.28 87.08 42.7 89.33 42.2 91.5C41.7 93.67 41.29 95.92 41 98C40.71 100.08 40.57 102.18 40.45 104C40.33 105.82 40.32 108.08 40.3 108.9C40.32 109.72 40.33 111.98 40.45 113.8C40.57 115.62 40.71 117.72 41 119.8C41.29 121.88 41.7 124.13 42.2 126.3C42.7 128.47 43.28 130.72 44 132.8C44.72 134.88 45.57 136.85 46.5 138.8C47.43 140.75 48.47 142.67 49.6 144.5C50.73 146.33 52.07 148.02 53.3 149.8C54.53 151.58 55.65 153.43 57 155.2C58.35 156.97 59.8 158.69 61.41 160.4C63.02 162.12 64.79 163.57 66.65 165.49C68.51 167.4 70.58 169.76 72.58 171.88C74.58 174 76.41 175.99 78.67 178.21C80.93 180.43 83.87 183.16 86.12 185.2C88.38 187.23 90.12 188.72 92.21 190.42C94.3 192.11 97.6 194.54 98.67 195.37" fill="none" stroke="#c8e600" stroke-opacity="0.6" stroke-width="0.8"/>
<circle cx="98.35" cy="108.9" r="51.25" fill="#fff" stroke="#c8ff70" stroke-opacity="0.55" stroke-width="0.9"/>
<rect x="98.65" y="3" width="53" height="212" fill="#fff"/>
<path d="M21.9 2.1H152.1V215.5" fill="none" stroke="#161616" stroke-width="1.15"/>
<path d="M21.9 1.8V215.5H152.4" fill="none" stroke="#111" stroke-width="1.8"/>
<path d="M21.9 211.02h5M21.9 185.49h5M21.9 159.96h5M21.9 134.43h5M21.9 108.9h5M21.9 83.37h5M21.9 57.84h5M21.9 32.31h5M21.9 6.78h5M47.43 215.5v-5M72.96 215.5v-5M98.49 215.5v-5M124.02 215.5v-5M149.55 215.5v-5" stroke="#111" stroke-width="1.35" fill="none"/>
<path d="M21.9 205.91h2.2M21.9 200.81h2.2M21.9 195.7h2.2M21.9 190.6h2.2M21.9 180.38h2.2M21.9 175.28h2.2M21.9 170.17h2.2M21.9 165.07h2.2M21.9 154.85h2.2M21.9 149.75h2.2M21.9 144.64h2.2M21.9 139.54h2.2M21.9 129.32h2.2M21.9 124.22h2.2M21.9 119.11h2.2M21.9 114.01h2.2M21.9 103.79h2.2M21.9 98.69h2.2M21.9 93.58h2.2M21.9 88.48h2.2M21.9 78.26h2.2M21.9 73.16h2.2M21.9 68.05h2.2M21.9 62.95h2.2M21.9 52.73h2.2M21.9 47.63h2.2M21.9 42.52h2.2M21.9 37.42h2.2M21.9 27.2h2.2M21.9 22.1h2.2M21.9 16.99h2.2M21.9 11.89h2.2M27.01 215.5v-2.2M32.11 215.5v-2.2M37.22 215.5v-2.2M42.32 215.5v-2.2M52.54 215.5v-2.2M57.64 215.5v-2.2M62.75 215.5v-2.2M67.85 215.5v-2.2M78.07 215.5v-2.2M83.17 215.5v-2.2M88.28 215.5v-2.2M93.38 215.5v-2.2M103.6 215.5v-2.2M108.7 215.5v-2.2M113.81 215.5v-2.2M118.91 215.5v-2.2M129.13 215.5v-2.2M134.23 215.5v-2.2M139.34 215.5v-2.2M144.44 215.5v-2.2" stroke="#8a8a8a" stroke-width="0.5" fill="none"/>
<g font-family="'Liberation Serif',serif" font-size="7.7" fill="#111" stroke="#111" stroke-width="0.1">
<text x="20.1" y="213.62" text-anchor="end">−2000</text>
<text x="20.1" y="188.09" text-anchor="end">−1500</text>
<text x="20.1" y="162.56" text-anchor="end">−1000</text>
<text x="20.1" y="137.03" text-anchor="end">−500</text>
<text x="20.1" y="111.5" text-anchor="end">0</text>
<text x="20.1" y="85.97" text-anchor="end">500</text>
<text x="20.1" y="60.44" text-anchor="end">1000</text>
<text x="20.1" y="34.91" text-anchor="end">1500</text>
<text x="20.1" y="9.38" text-anchor="end">2000</text>
<text x="22.1" y="224.3" text-anchor="middle">−500</text>
<text x="47.93" y="224.3" text-anchor="middle">0</text>
<text x="73.46" y="224.3" text-anchor="middle">500</text>
<text x="98.99" y="224.3" text-anchor="middle">1000</text>
<text x="124.52" y="224.3" text-anchor="middle">1500</text>
<text x="150.05" y="224.3" text-anchor="middle">2000</text>
</g>
<text x="87.4" y="232.9" text-anchor="middle" font-family="'Liberation Serif',serif" font-weight="bold" font-size="10.2" fill="#111">x(mm)</text>
<text transform="translate(12.1 108.7) rotate(-90)" text-anchor="middle" font-family="'Liberation Serif',serif" font-weight="bold" font-size="10.4" fill="#111">y(mm)</text>
<g font-family="'Liberation Serif',serif" fill="#222">
<text x="72.8" y="91.4" font-size="10.6">T<tspan font-size="5.4" dy="2.4">tr</tspan></text>
<text x="72.8" y="142.5" font-size="10.6">T<tspan font-size="5.4" dy="2.4">ve</tspan></text>
</g>
<text x="113.3" y="40.3" font-family="'Liberation Sans',sans-serif" font-size="10.2" fill="#111" stroke="#111" stroke-width="0.15" textLength="29.6" lengthAdjust="spacingAndGlyphs">T(10<tspan font-size="5.8" dy="-3.7">3</tspan><tspan dy="3.7">K)</tspan></text>
<rect x="113.4" y="52.2" width="10.5" height="8.62" fill="#ffa6ff"/>
<rect x="113.4" y="60.77" width="10.5" height="8.62" fill="#ff4cff"/>
<rect x="113.4" y="69.34" width="10.5" height="8.62" fill="#ff00e0"/>
<rect x="113.4" y="77.91" width="10.5" height="8.62" fill="#ff0084"/>
<rect x="113.4" y="86.48" width="10.5" height="8.62" fill="#ff0a14"/>
<rect x="113.4" y="95.05" width="10.5" height="8.62" fill="#ff4c00"/>
<rect x="113.4" y="103.62" width="10.5" height="8.62" fill="#ff9f00"/>
<rect x="113.4" y="112.19" width="10.5" height="8.62" fill="#ffff00"/>
<rect x="113.4" y="120.76" width="10.5" height="8.62" fill="#58ff00"/>
<rect x="113.4" y="129.33" width="10.5" height="8.62" fill="#00ff10"/>
<rect x="113.4" y="137.9" width="10.5" height="8.62" fill="#00fa28"/>
<rect x="113.4" y="146.47" width="10.5" height="8.62" fill="#00ff8c"/>
<rect x="113.4" y="155.04" width="10.5" height="8.62" fill="#00ffe6"/>
<rect x="113.4" y="163.61" width="10.5" height="8.62" fill="#00a4ff"/>
<rect x="113.4" y="172.18" width="10.5" height="8.62" fill="#0058ff"/>
<rect x="113.4" y="180.75" width="10.5" height="3.95" fill="#0000ff"/>
<g font-family="'Liberation Serif',serif" font-size="7.3" fill="#111" stroke="#111" stroke-width="0.1">
<text x="142.4" y="56.3" text-anchor="end">16.0</text>
<text x="142.4" y="64.83" text-anchor="end">15.0</text>
<text x="142.4" y="73.36" text-anchor="end">14.0</text>
<text x="142.4" y="81.89" text-anchor="end">13.0</text>
<text x="142.4" y="90.42" text-anchor="end">12.0</text>
<text x="142.4" y="98.95" text-anchor="end">11.0</text>
<text x="142.4" y="107.48" text-anchor="end">10.0</text>
<text x="142.4" y="116.01" text-anchor="end">9.0</text>
<text x="142.4" y="124.54" text-anchor="end">8.0</text>
<text x="142.4" y="133.07" text-anchor="end">7.0</text>
<text x="142.4" y="141.6" text-anchor="end">6.0</text>
<text x="142.4" y="150.13" text-anchor="end">5.0</text>
<text x="142.4" y="158.66" text-anchor="end">4.0</text>
<text x="142.4" y="167.19" text-anchor="end">3.0</text>
<text x="142.4" y="175.72" text-anchor="end">2.0</text>
<text x="142.4" y="184.25" text-anchor="end">1.0</text>
</g>
</g>
<g font-family="'Liberation Serif',serif" font-size="10.5" fill="#2a2a2a">
<text x="410.9" y="257.4" textLength="11.4" lengthAdjust="spacingAndGlyphs" font-weight="bold">(c)</text>
<text x="425.5" y="257.4" textLength="15.9" lengthAdjust="spacingAndGlyphs" font-style="italic">Ma</text>
<text x="443.8" y="257.4" textLength="5.2" lengthAdjust="spacingAndGlyphs">=</text>
<text x="451.9" y="257.4" textLength="27.4" lengthAdjust="spacingAndGlyphs">29.05,</text>
<text x="483.6" y="257.4" textLength="49.4" lengthAdjust="spacingAndGlyphs">11-species</text>
</g>
</svg></body></html>
